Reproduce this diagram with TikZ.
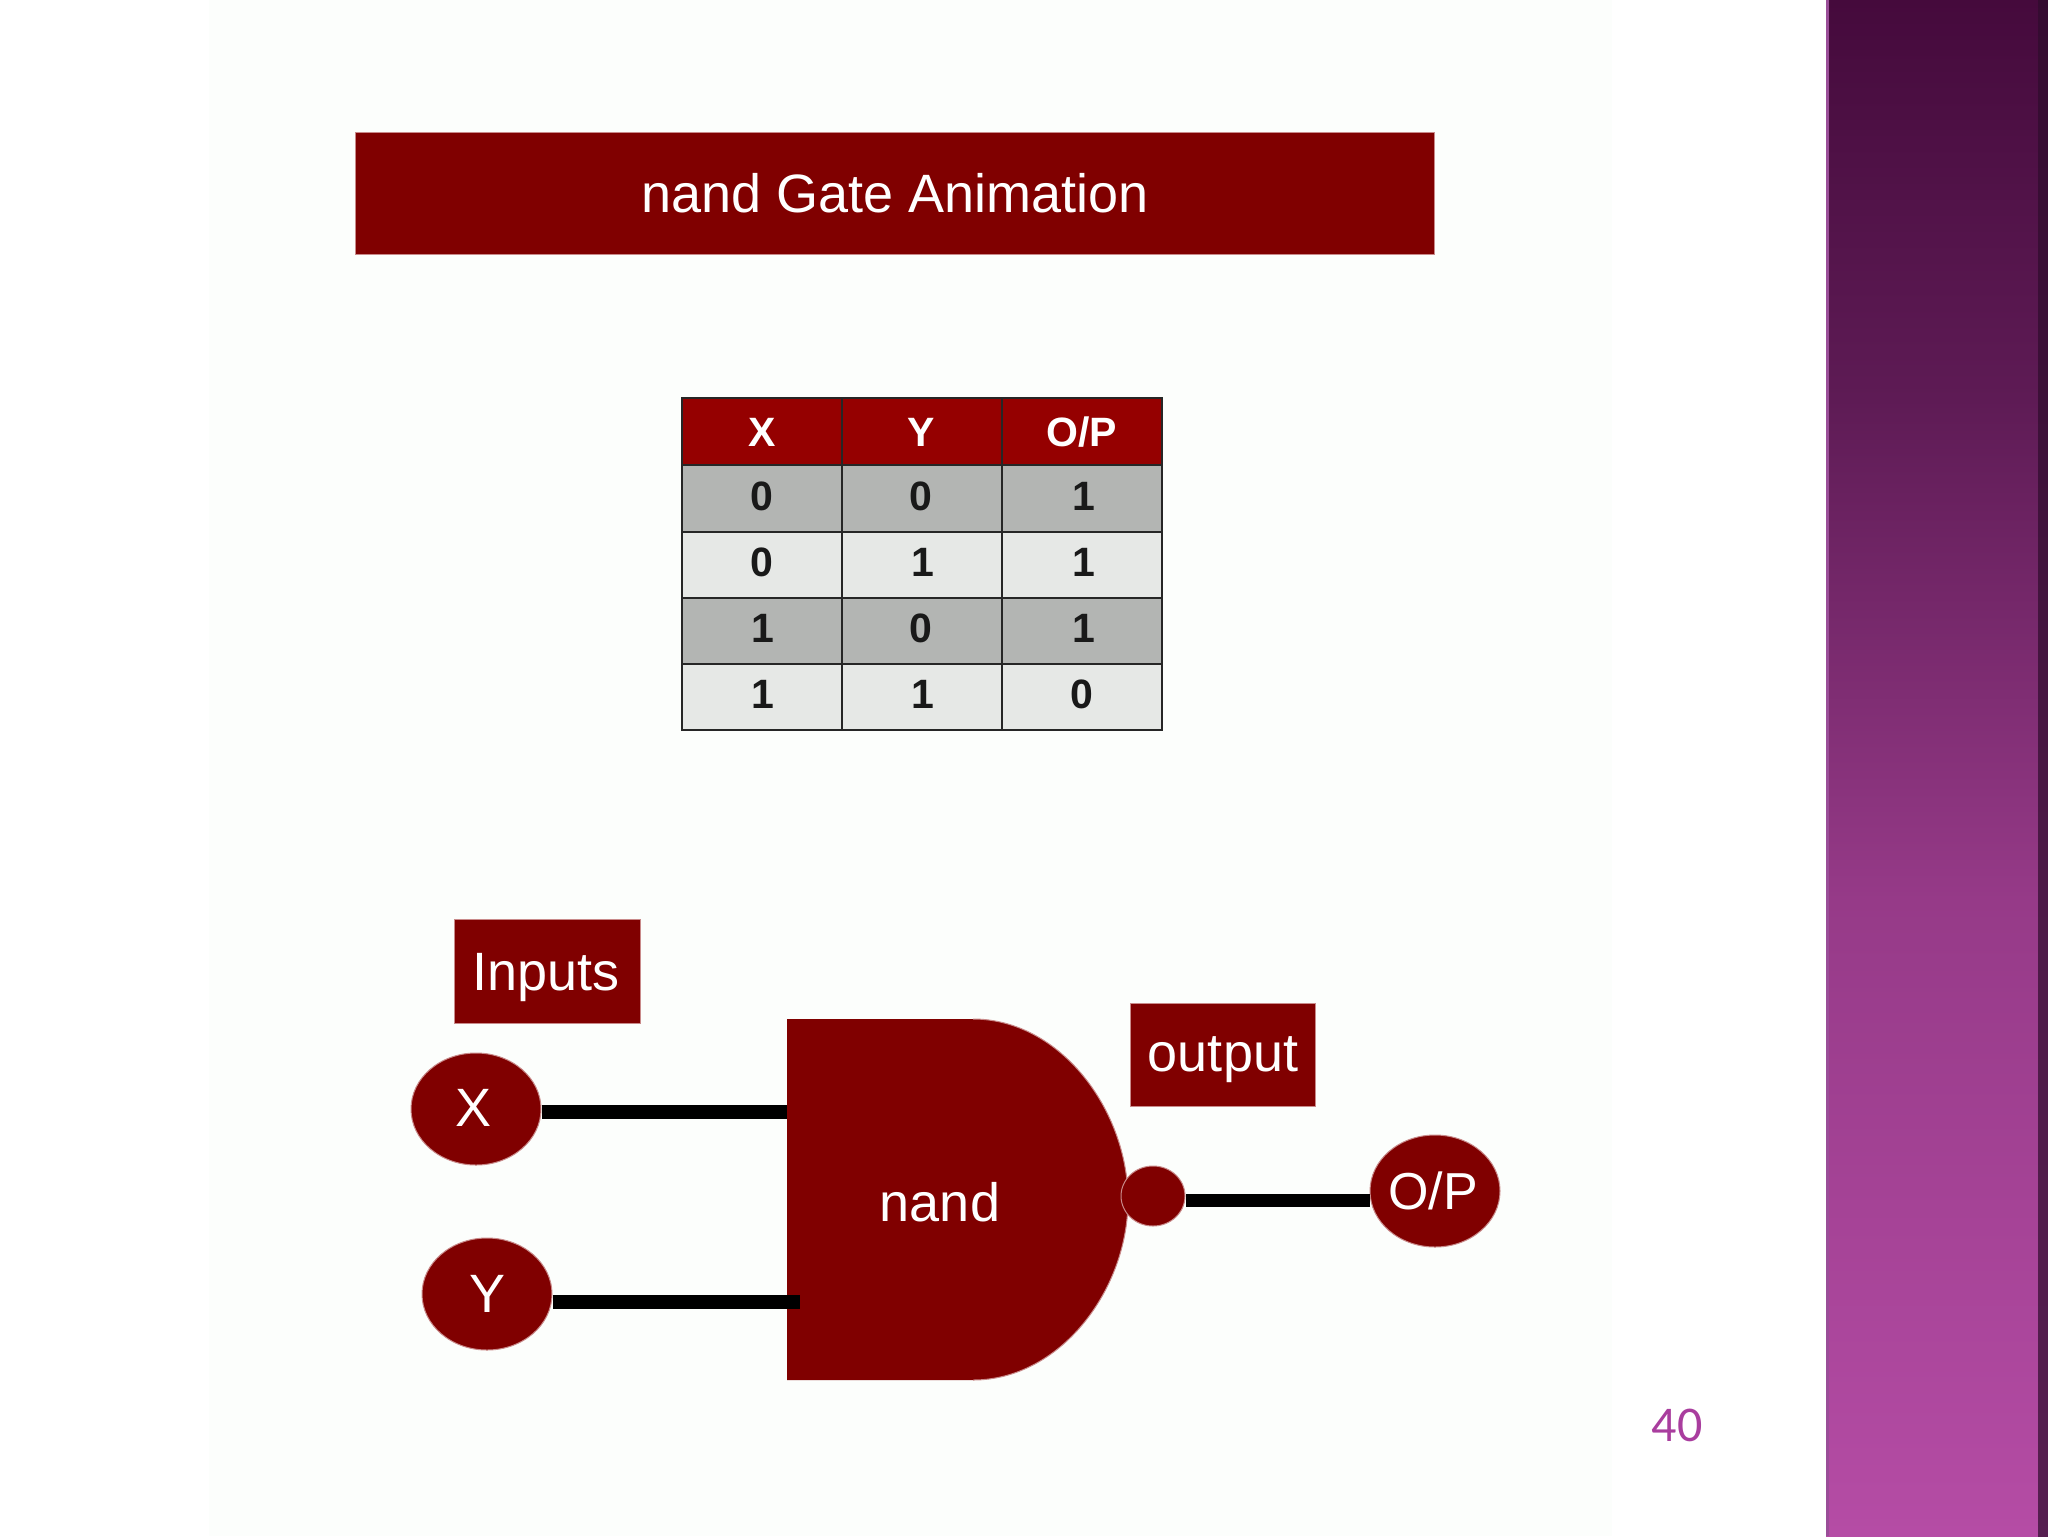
\documentclass[tikz,border=0pt]{standalone}
\usepackage{fontspec}
\setmainfont{Liberation Sans}
\newfontfamily\numfont{Carlito}
\usetikzlibrary{shapes.geometric}
\definecolor{maroon}{HTML}{800000}
\definecolor{headred}{HTML}{950000}
\definecolor{rowdark}{HTML}{B3B5B3}
\definecolor{rowlight}{HTML}{E6E8E6}
\definecolor{paper}{HTML}{FCFEFC}
\definecolor{edgepink}{HTML}{C98A8A}
\definecolor{numcol}{HTML}{A93D9E}
\definecolor{panelA}{HTML}{450A3C}
\definecolor{panelB}{HTML}{5E1B55}
\definecolor{panelC}{HTML}{963A88}
\definecolor{panelD}{HTML}{B54CA5}
\definecolor{panelEdge}{HTML}{9A4E98}
\definecolor{panelDark}{HTML}{2E0C2C}
\tikzset{
  x=0.5pt,y=-0.5pt,
  redbox/.style={fill=maroon,draw=edgepink,line width=0.5pt,inner sep=0pt},
  blob/.style={ellipse,fill=maroon,draw=edgepink,line width=0.5pt,inner sep=0pt},
  wire/.style={line width=7pt,black},
  cellhead/.style={text=white,font=\bfseries\fontsize{20.5}{24}\selectfont},
  cellbody/.style={text=black!90,font=\bfseries\fontsize{20.5}{24}\selectfont},
  gridline/.style={draw=black!85,line width=1pt},
  glabel/.style={text=white,font=\fontsize{27}{32}\selectfont}
}
\begin{document}
\begin{tikzpicture}
\useasboundingbox (0,0) rectangle (2048,1536);
\fill[white] (0,0) rectangle (2048,1536);
\fill[paper] (209,0) rectangle (1612,1536);
% side panel
\shade[top color=panelA,bottom color=panelB] (1826,0) rectangle (2048,400);
\shade[top color=panelB,bottom color=panelC] (1826,399) rectangle (2048,900);
\shade[top color=panelC,bottom color=panelD] (1826,899) rectangle (2048,1536);
\shade[left color=panelDark,right color=panelDark,opacity=0.7] (2038,0) rectangle (2048,1536);
\fill[panelEdge] (1826,0) rectangle (1829,1536);
% title
\node[redbox,minimum width=539.5pt,minimum height=61pt] (title) at (894.5,193) {};
\node[glabel] (titletext) at (895,193) {nand Gate Animation};
% table
\fill[headred] (682,398) rectangle (1162,465);
\fill[rowdark] (682,465) rectangle (1162,532);
\fill[rowlight] (682,532) rectangle (1162,598);
\fill[rowdark] (682,598) rectangle (1162,664);
\fill[rowlight] (682,664) rectangle (1162,730);
\draw[gridline] (682,398) rectangle (1162,730);
\foreach \xx in {842,1002} \draw[gridline] (\xx,398) -- (\xx,730);
\foreach \yy in {465,532,598,664} \draw[gridline] (682,\yy) -- (1162,\yy);
\node[cellhead] (h1) at (762,432) {X};
\node[cellhead] (h2) at (921,432) {Y};
\node[cellhead] (h3) at (1082,432) {O/P};
\node[cellbody] (a1) at (762,496) {0};
\node[cellbody] (a2) at (921,496) {0};
\node[cellbody] (a3) at (1084,496) {1};
\node[cellbody] (b1) at (762,562) {0};
\node[cellbody] (b2) at (923,562) {1};
\node[cellbody] (b3) at (1084,562) {1};
\node[cellbody] (c1) at (763,628) {1};
\node[cellbody] (c2) at (921,628) {0};
\node[cellbody] (c3) at (1084,628) {1};
\node[cellbody] (d1) at (763,694) {1};
\node[cellbody] (d2) at (923,694) {1};
\node[cellbody] (d3) at (1082,694) {0};
% labels
\node[redbox,minimum width=93pt,minimum height=52pt] (inputs) at (547,971) {};
\node[glabel] (inputstext) at (546,978) {Inputs};
\node[redbox,minimum width=92.5pt,minimum height=51.5pt] (output) at (1222.5,1054.5) {};
\node[glabel] (outputtext) at (1223,1060) {output};
% terminals
\node[blob,minimum width=65pt,minimum height=56pt] (X) at (476,1109) {};
\node[glabel] (Xt) at (474,1108) {X};
\node[blob,minimum width=65pt,minimum height=56pt] (Y) at (487,1294) {};
\node[glabel] (Yt) at (487,1294) {Y};
\node[blob,minimum width=65pt,minimum height=56pt] (OP) at (1435,1191) {};
\node[glabel,font=\fontsize{26}{32}\selectfont] (OPt) at (1433,1191) {O/P};
% gate
\coordinate (gx) at (787,1112);
\coordinate (gy) at (800,1302);
\coordinate (bo) at (1186,1200);
\draw[wire] (X.east |- gx) -- (gx);
\fill[maroon] (787,1019) -- (973,1019)
  .. controls (1060,1019) and (1128,1110) .. (1128,1200)
  .. controls (1128,1290) and (1060,1380) .. (973,1380)
  -- (787,1380) -- cycle;
\draw[edgepink,line width=0.5pt] (973,1019)
  .. controls (1060,1019) and (1128,1110) .. (1128,1200)
  .. controls (1128,1290) and (1060,1380) .. (973,1380);
\draw[wire] (Y.east |- gy) -- (gy);
\node[glabel] (nand) at (940,1202) {nand};
\node[blob,minimum width=32pt,minimum height=30pt] (bubble) at (1153,1196) {};
\draw[line width=6.5pt] (bubble.east |- bo) -- (OP.west |- bo);
\node[text=numcol,font=\numfont\fontsize{25}{30}\selectfont] (num) at (1677,1425) {40};
\end{tikzpicture}
\end{document}
